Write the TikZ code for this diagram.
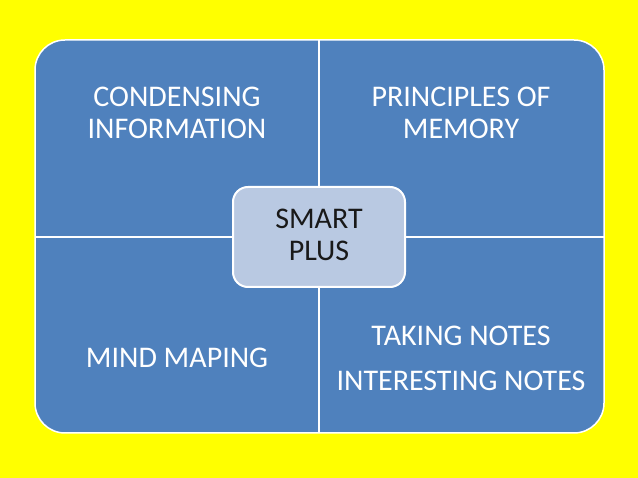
\documentclass[tikz,border=0pt]{standalone}
\usepackage{fontspec}
\setmainfont{Carlito}
\definecolor{bgyellow}{RGB}{255,255,0}
\definecolor{qblue}{RGB}{79,129,189}
\definecolor{cfill}{RGB}{185,201,226}
\begin{document}
\begin{tikzpicture}[x=1pt,y=-1pt,
  quadtext/.style={text=white,font=\fontsize{30}{32}\selectfont,align=center,inner sep=0pt},
  centertext/.style={text=black!90,font=\fontsize{30}{32}\selectfont,align=center,inner sep=0pt}]
\fill[bgyellow] (0,0) rectangle (638,478);
\useasboundingbox (0,0) rectangle (638,478);
\draw[fill=qblue,draw=white,line width=1.5pt,rounded corners=30pt] (35,40) rectangle (604,433);
\coordinate (top) at (319,40);
\coordinate (bot) at (319,433);
\coordinate (lft) at (35,237);
\coordinate (rgt) at (604,237);
\draw[white,line width=1.5pt] (top) -- (bot);
\draw[white,line width=1.5pt] (lft) -- (rgt);
\draw[fill=cfill,draw=white,line width=2pt,rounded corners=15pt] (233,187) rectangle (405,287);
\node[quadtext] (cond) at (177,113) {CONDENSING\\INFORMATION};
\node[quadtext] (prin) at (461,113) {PRINCIPLES OF\\MEMORY};
\node[centertext] (smart) at (319,235) {SMART\\PLUS};
\node[quadtext] (mind) at (177,358) {MIND MAPING};
\node[quadtext] (take) at (461,336) {TAKING NOTES};
\node[quadtext] (inter) at (461,381) {INTERESTING NOTES};
\end{tikzpicture}
\end{document}
